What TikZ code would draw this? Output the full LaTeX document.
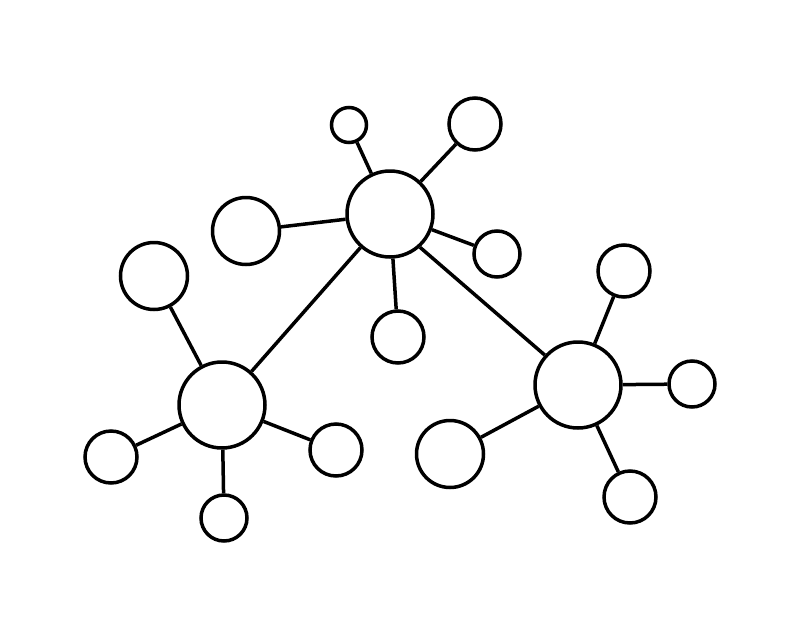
\documentclass[tikz,border=0pt]{standalone}
\begin{document}
\begin{tikzpicture}[x=1pt,y=-1pt,
  bub/.style={circle,draw=black,line width=3.5pt,fill=white,inner sep=0pt,minimum size=#1},
  link/.style={draw=black,line width=3.5pt}]
\useasboundingbox[fill=white] (0,0) rectangle (800,640);
% hubs
\node[bub=86pt] (T) at (390,214) {};
\node[bub=86pt] (L) at (222,405) {};
\node[bub=86pt] (R) at (578,385) {};
% top hub satellites
\node[bub=35pt] (T1) at (349,125) {};
\node[bub=52pt] (T2) at (475,124) {};
\node[bub=67pt] (T3) at (246,231) {};
\node[bub=46pt] (T4) at (497,254) {};
\node[bub=52pt] (T5) at (398,337) {};
% left hub satellites
\node[bub=67pt] (L1) at (154,276) {};
\node[bub=52pt] (L2) at (111,457) {};
\node[bub=46pt] (L3) at (224,518) {};
\node[bub=52pt] (L4) at (336,450) {};
% right hub satellites
\node[bub=52pt] (R1) at (624,271) {};
\node[bub=46pt] (R2) at (692,384) {};
\node[bub=52pt] (R3) at (630,497) {};
\node[bub=67pt] (R4) at (450,454) {};
% connectors
\foreach \a/\b in {T/T1,T/T2,T/T3,T/T4,T/T5,L/L1,L/L2,L/L3,L/L4,R/R1,R/R2,R/R3,R/R4,T/L}
  \draw[link] (\a) -- (\b);
\draw[link] (T.-48) -- (R.138);
\end{tikzpicture}
\end{document}
